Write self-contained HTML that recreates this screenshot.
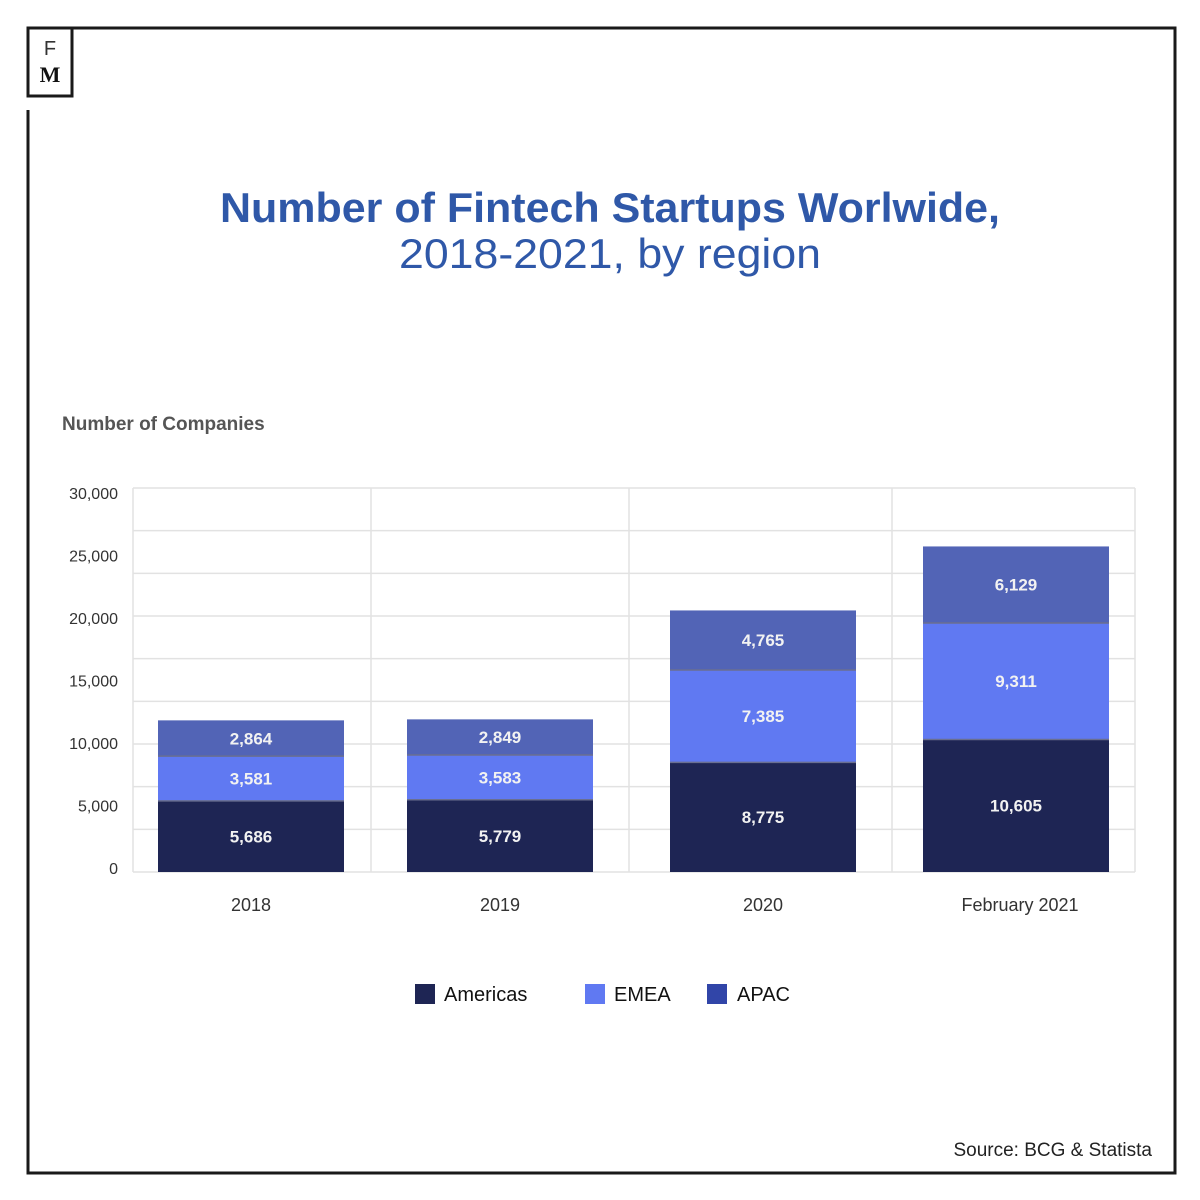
<!DOCTYPE html>
<html><head><meta charset="utf-8"><style>
html,body{margin:0;padding:0;background:#fff;}
svg{display:block;font-family:"Liberation Sans",sans-serif;}
</style></head><body>
<svg width="1200" height="1200" viewBox="0 0 1200 1200">
  <rect x="0" y="0" width="1200" height="1200" fill="#fff"/>
  <g fill="none" stroke="#1a1a1a" stroke-width="3">
    <polyline points="73,28 1175,28 1175,1173 28,1173 28,110"/>
  </g>
  <g>
    <rect x="28" y="28" width="44" height="68" fill="#fff" stroke="#1a1a1a" stroke-width="3"/>
    <text x="50" y="55" text-anchor="middle" font-size="20" fill="#333" font-weight="300">F</text>
    <text x="50" y="82" text-anchor="middle" font-size="22" font-weight="bold" fill="#111" font-family="Liberation Serif,serif">M</text>
  </g>
  <text x="610" y="222" text-anchor="middle" font-size="42" font-weight="bold" fill="#2f58a8" textLength="780" lengthAdjust="spacingAndGlyphs">Number of Fintech Startups Worlwide,</text>
  <text x="610" y="268" text-anchor="middle" font-size="42" fill="#2f58a8" textLength="422" lengthAdjust="spacingAndGlyphs">2018-2021, by region</text>
  <text x="62" y="430" font-size="19" font-weight="bold" fill="#555">Number of Companies</text>
  <g id="grid"></g>
  <g id="yticks"></g>
  <g id="bars"></g>
  <g id="xlabels"></g>
  <g font-size="20" fill="#111">
    <g><rect x="415" y="984" width="20" height="20" fill="#1e2554"/><text x="444" y="1001">Americas</text></g>
    <g><rect x="585" y="984" width="20" height="20" fill="#6079f2"/><text x="614" y="1001">EMEA</text></g>
    <g><rect x="707" y="984" width="20" height="20" fill="#3145a8"/><text x="737" y="1001">APAC</text></g>
  </g>
  <text x="1152" y="1156" text-anchor="end" font-size="19" fill="#222">Source: BCG &amp; Statista</text>
</svg>
<script>
const categories = ["2018", "2019", "2020", "February 2021"];
const americas = [5686, 5779, 8775, 10605];
const emea = [3581, 3583, 7385, 9311];
const apac = [2864, 2849, 4765, 6129];
const yTicks = [0, 5000, 10000, 15000, 20000, 25000, 30000];
const yTickLabels = ["0", "5,000", "10,000", "15,000", "20,000", "25,000", "30,000"];

const NS = "http://www.w3.org/2000/svg";
const plotL = 133, plotR = 1135, plotB = 872, plotT = 488;
const yMax = 30000;
function y(v){ return plotB - v * 0.0125; }
const catCenters = [251, 500, 763, 1016];
function x(i){ return catCenters[i]; }
const barW = 186;
function fmt(v){ return v.toLocaleString("en-US"); }
function mk(tag, attrs, parent){
  const e = document.createElementNS(NS, tag);
  for (const k in attrs) e.setAttribute(k, attrs[k]);
  parent.appendChild(e);
  return e;
}
const grid = document.getElementById("grid");
for (let i = 0; i <= 9; i++) {
  const gy = plotB - i * (plotB - plotT) / 9;
  const l = mk("line", {x1: plotL, x2: plotR, y1: gy, y2: gy, stroke: "#e2e2e2", "stroke-width": 1.5}, grid);
  
  
}
[plotL, 371, 629, 892, plotR].forEach(vx => {
  const l = mk("line", {x1: vx, x2: vx, y1: plotT, y2: plotB, stroke: "#e2e2e2", "stroke-width": 1.5}, grid);
  
  
});
const yt = document.getElementById("yticks");
yTicks.forEach((v, i) => {
  const t = mk("text", {x: 118, y: y(v) + 2, "text-anchor": "end", "font-size": 16, fill: "#333"}, yt);
  t.textContent = yTickLabels[i];
  
  
});
const bars = document.getElementById("bars");
const series = [
  {name: "americas", vals: americas, color: "#1e2554"},
  {name: "emea", vals: emea, color: "#6079f2"},
  {name: "apac", vals: apac, color: "#5264b6"}
];
categories.forEach((c, i) => {
  let base = 0;
  series.forEach(s => {
    const v = s.vals[i];
    const y0 = y(base), y1 = y(base + v);
    const r = mk("rect", {x: x(i) - barW / 2, y: y1, width: barW, height: y0 - y1, fill: s.color}, bars);
    
    
    if (s.name !== "americas") {
      mk("line", {x1: x(i) - barW / 2, x2: x(i) + barW / 2, y1: y0, y2: y0, stroke: "#6a6f90", "stroke-width": 1.5}, bars);
    }
    const t = mk("text", {x: x(i), y: (y0 + y1) / 2 + 6, "text-anchor": "middle", "font-size": 17, "font-weight": "bold", fill: "#f2f2f2"}, bars);
    t.textContent = fmt(v);
    
    
    base += v;
  });
});
const xl = document.getElementById("xlabels");
categories.forEach((c, i) => {
  const t = mk("text", {x: x(i) + (i === 3 ? 4 : 0), y: 911, "text-anchor": "middle", "font-size": 18, fill: "#333"}, xl);
  t.textContent = c;
  
  
});
</script>
</body></html>
